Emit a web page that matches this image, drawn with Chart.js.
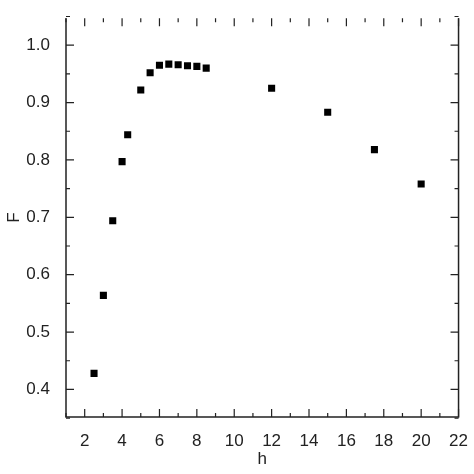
<!DOCTYPE html>
<html>
<head>
<script src="https://cdn.jsdelivr.net/npm/chart.js@4"></script>
<style>
  body { margin: 0; background: #fff; }
  #wrap { width: 474px; height: 474px; }
</style>
</head>
<body>
<div id="wrap"><canvas id="chart"></canvas></div>
<script>
const hValues = [2.5, 3, 3.5, 4, 4.3, 5, 5.5, 6, 6.5, 7, 7.5, 8, 8.5, 12, 15, 17.5, 20];
const fValues = [0.428, 0.564, 0.694, 0.797, 0.844, 0.922, 0.952, 0.965, 0.967, 0.966, 0.964, 0.963, 0.960, 0.925, 0.883, 0.818, 0.758];
const xTicks = [2, 4, 6, 8, 10, 12, 14, 16, 18, 20, 22];
const yTicks = [0.4, 0.5, 0.6, 0.7, 0.8, 0.9, 1.0];

// inward ticks on all four sides, with minor ticks between
const frameTicks = {
  id: 'frameTicks',
  afterDraw(chart) {
    const c = chart.ctx, a = chart.chartArea;
    const x = chart.scales.x, y = chart.scales.y;
    c.save();
    c.strokeStyle = '#222';
    c.lineWidth = 1.5;
    c.beginPath();
    c.moveTo(a.left, a.top); c.lineTo(a.left, a.bottom); c.lineTo(a.right, a.bottom); c.lineTo(a.right, a.top);
    c.stroke();
    c.lineWidth = 1.2;
    for (let v = 1; v <= 22; v++) {
      const px = x.getPixelForValue(v);
      const len = v % 2 === 0 ? 8 : 4;
      c.beginPath();
      c.moveTo(px, a.bottom); c.lineTo(px, a.bottom - len);
      c.moveTo(px, a.top); c.lineTo(px, a.top + len);
      c.stroke();
    }
    for (let i = 7; i <= 21; i++) {
      const v = i / 20;
      const py = y.getPixelForValue(v);
      const len = i % 2 === 0 ? 8 : 4;
      c.beginPath();
      c.moveTo(a.left, py); c.lineTo(a.left + len, py);
      c.moveTo(a.right, py); c.lineTo(a.right - len, py);
      c.stroke();
    }
    c.restore();
  }
};

new Chart(document.getElementById('chart'), {
  type: 'scatter',
  data: {
    datasets: [{
      data: hValues.map((h, i) => ({ x: h, y: fValues[i] })),
      pointStyle: 'rect',
      radius: 5,
      backgroundColor: '#000',
      borderColor: '#000',
      borderWidth: 0
    }]
  },
  options: {
    responsive: true,
    maintainAspectRatio: false,
    animation: false,
    layout: { padding: { left: 0, right: 11, top: -15, bottom: 0 } },
    plugins: { legend: { display: false }, tooltip: { enabled: false } },
    scales: {
      x: {
        type: 'linear', min: 1, max: 22,
        afterBuildTicks: s => { s.ticks = xTicks.map(v => ({ value: v })); },
        afterFit: s => { s.height = 57; },
        grid: { display: false },
        border: { display: false },
        ticks: { color: '#222', font: { family: 'Liberation Sans', size: 17 }, padding: 6, maxRotation: 0 },
        title: { display: true, text: 'h', color: '#222', font: { family: 'Liberation Sans', size: 17 }, padding: { top: 6 } }
      },
      y: {
        type: 'linear', min: 0.352, max: 1.047,
        afterBuildTicks: s => { s.ticks = yTicks.map(v => ({ value: v })); },
        afterFit: s => { s.width = 66; },
        grid: { display: false },
        border: { display: false },
        ticks: { color: '#222', font: { family: 'Liberation Sans', size: 17 }, padding: 8, callback: v => v.toFixed(1) },
        title: { display: true, text: 'F', color: '#222', font: { family: 'Liberation Sans', size: 17 }, padding: { bottom: 0 } }
      }
    }
  },
  plugins: [frameTicks]
});
</script>
</body>
</html>
